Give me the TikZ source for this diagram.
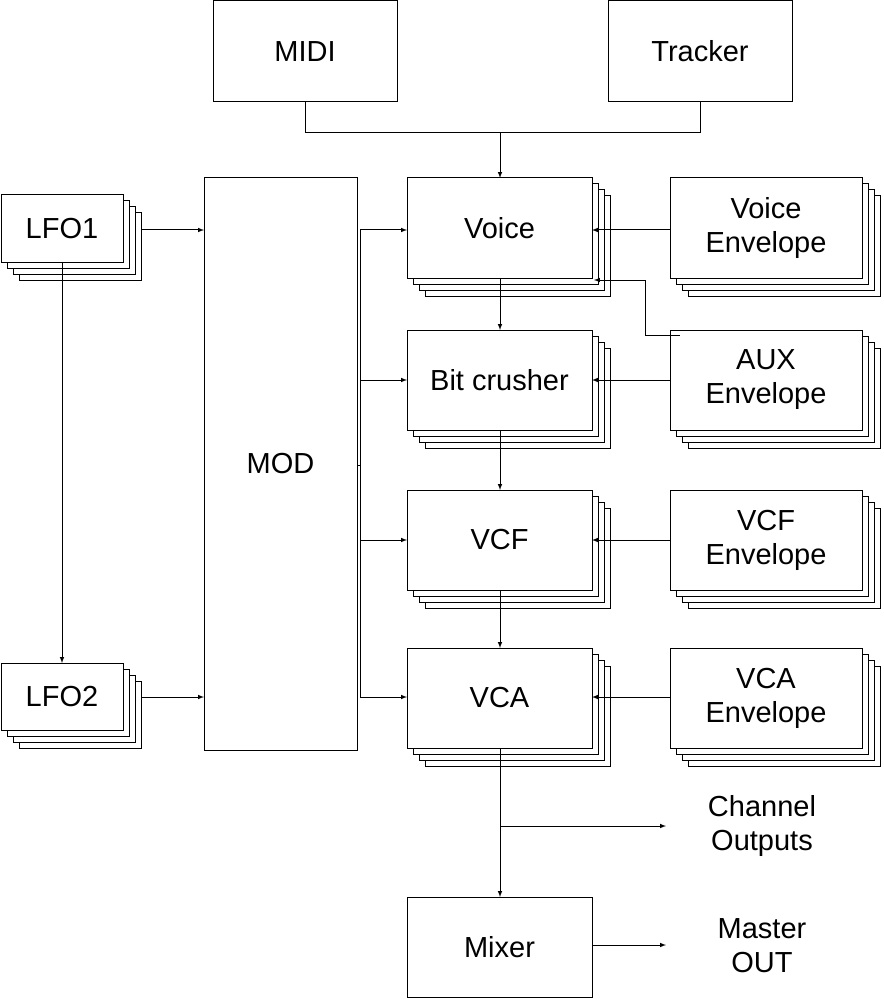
\documentclass[tikz,border=0pt]{standalone}
\usepackage{fontspec}
\setmainfont{Liberation Sans}
\begin{document}
\begin{tikzpicture}[x=1pt,y=-1pt,line width=1pt,
  lbl/.style={font=\fontsize{29}{34}\selectfont,align=center},
  arr/.style={->,>=latex}]
\useasboundingbox (0,0) rectangle (883,1000);
\newcommand{\stackbox}[6]{% name, x1,y1,x2,y2,text
  \foreach \o in {18,12,6}{\draw[fill=white] (#2+\o,#3+\o) rectangle (#4+\o,#5+\o);}
  \draw[fill=white] (#2,#3) rectangle (#4,#5);
  \node[lbl] (#1) at ({(#2+#4)/2},{(#3+#5)/2}) {#6};
  \coordinate (#1-nw) at (#2,#3); \coordinate (#1-se) at (#4,#5);}
\newcommand{\plainbox}[6]{%
  \draw[fill=white] (#2,#3) rectangle (#4,#5);
  \node[lbl] (#1) at ({(#2+#4)/2},{(#3+#5)/2}) {#6};}
\plainbox{midi}{213}{1}{397}{102}{MIDI}
\plainbox{tracker}{608}{1}{792}{102}{Tracker}
\plainbox{mod}{204}{178}{357}{750}{MOD}
\plainbox{mixer}{407}{897}{592}{997}{Mixer}
\stackbox{lfoa}{1}{195}{123}{262}{LFO1}
\stackbox{lfob}{1}{663}{123}{730}{LFO2}
\stackbox{voice}{407}{178}{592}{278}{Voice}
\stackbox{bit}{407}{330}{592}{430}{Bit crusher}
\stackbox{vcf}{407}{490}{592}{590}{VCF}
\stackbox{vca}{407}{648}{592}{748}{VCA}
\stackbox{venv}{670}{178}{862}{278}{Voice\\Envelope}
\stackbox{aenv}{670}{330}{862}{430}{AUX\\Envelope}
\stackbox{fenv}{670}{490}{862}{590}{VCF\\Envelope}
\stackbox{cenv}{670}{648}{862}{748}{VCA\\Envelope}
\node[lbl] (chout) at (762,826) {Channel\\Outputs};
\node[lbl] (mout) at (762,946) {Master\\OUT};
\coordinate (j) at (500,133);
\draw (305,102) |- (700,133) -- (700,102);
\draw[arr] (j) -- (500,178);
\draw[arr] (141,230) -- (204,230);
\draw[arr] (141,697) -- (204,697);
\draw[arr] (62,262) -- (62,663);
\draw (357,465) -- (360,465);
\draw (360,230) -- (360,697);
\draw[arr] (360,230) -- (407,230);
\draw[arr] (360,380) -- (407,380);
\draw[arr] (360,540) -- (407,540);
\draw[arr] (360,697) -- (407,697);
\draw[arr] (670,230) -- (592,230);
\draw[arr] (670,380) -- (592,380);
\draw[arr] (670,540) -- (592,540);
\draw[arr] (670,697) -- (592,697);
\draw[arr] (680,335) -- (645,335) -- (645,280) -- (594,280);
\draw[arr] (500,278) -- (500,330);
\draw[arr] (500,430) -- (500,490);
\draw[arr] (500,590) -- (500,648);
\draw[arr] (500,748) -- (500,897);
\draw[arr] (500,826) -- (666,826);
\draw[arr] (592,945) -- (666,945);
\end{tikzpicture}
\end{document}
